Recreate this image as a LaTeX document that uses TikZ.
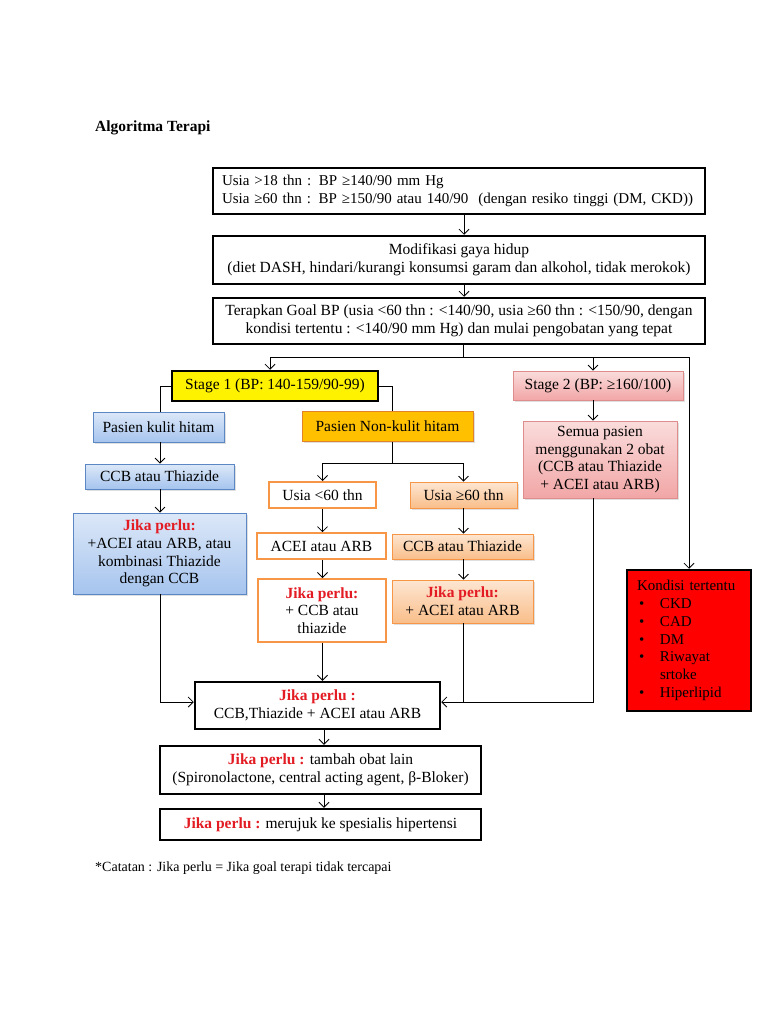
\documentclass[tikz,border=0pt]{standalone}
\usepackage{fontspec}
\setmainfont{Liberation Serif}
\usetikzlibrary{arrows.meta,shadows,calc}
\definecolor{jred}{HTML}{E31B23}
\definecolor{bluetop}{HTML}{DCE8F8}
\definecolor{bluebot}{HTML}{A6C4EE}
\definecolor{blueline}{HTML}{5B87C5}
\definecolor{orgfill}{HTML}{FFC000}
\definecolor{orgline}{HTML}{E0832A}
\definecolor{ltorgtop}{HTML}{FDE6D2}
\definecolor{ltorgbot}{HTML}{F9BE8A}
\definecolor{ltorgline}{HTML}{F79646}
\definecolor{pinktop}{HTML}{FADCDC}
\definecolor{pinkbot}{HTML}{F2A6A6}
\definecolor{pinkline}{HTML}{DE8C8C}
\newcommand{\jkp}[1]{\textcolor{jred}{\textbf{#1}}}
\tikzset{
  every node/.style={font=\fontsize{15.5}{17.8}\selectfont, inner sep=2pt},
  blk/.style={draw=black, line width=2.5pt, fill=white, align=center},
  bluebox/.style={draw=blueline, line width=0.8pt, top color=bluetop, bottom color=bluebot, align=center,
    drop shadow={opacity=0.25, shadow xshift=1.5pt, shadow yshift=-1.5pt}},
  orgbox/.style={draw=orgline, line width=1pt, fill=orgfill, align=center,
    drop shadow={opacity=0.25, shadow xshift=1.5pt, shadow yshift=-1.5pt}},
  ltorgbox/.style={draw=ltorgline, line width=0.8pt, top color=ltorgtop, bottom color=ltorgbot, align=center,
    drop shadow={opacity=0.25, shadow xshift=1.5pt, shadow yshift=-1.5pt}},
  worgbox/.style={draw=ltorgline, line width=2pt, fill=white, align=center},
  pinkbox/.style={draw=pinkline, line width=0.8pt, top color=pinktop, bottom color=pinkbot, align=center,
    drop shadow={opacity=0.25, shadow xshift=1.5pt, shadow yshift=-1.5pt}},
  conn/.style={line width=0.8pt, draw=black},
  arr/.style={conn, -{Straight Barb[length=5pt,width=10pt]}},
}
\begin{document}
\begin{tikzpicture}[x=1pt,y=-1pt]
\path[use as bounding box, fill=white] (0,0) rectangle (768,1024);

\node[anchor=west, font=\fontsize{15.5}{17.8}\selectfont\bfseries] (title) at (93,128) {Algoritma Terapi};

\node[blk, align=left, text width=474pt, inner xsep=9pt, minimum height=46pt, font=\fontsize{15}{17.8}\selectfont] (b1) at (459,191)
  {Usia >18 thn : BP ≥140/90 mm Hg\\Usia ≥60 thn : BP ≥150/90 atau 140/90~ (dengan resiko tinggi (DM, CKD))};
\node[blk, minimum width=492pt, minimum height=48pt] (b2) at (459,260)
  {Modifikasi gaya hidup\\(diet DASH, hindari/kurangi konsumsi garam dan alkohol, tidak merokok)};
\node[blk, minimum width=492pt, minimum height=46pt] (b3) at (459,321)
  {Terapkan Goal BP (usia <60 thn : <140/90, usia ≥60 thn : <150/90, dengan\\kondisi tertentu : <140/90 mm Hg) dan mulai pengobatan yang tepat};

\node[blk, fill=yellow, minimum width=206pt, minimum height=30pt] (s1) at (275,386) {Stage 1 (BP: 140-159/90-99)};
\node[pinkbox, minimum width=170pt, minimum height=29pt] (s2) at (598,385.5) {Stage 2 (BP: ≥160/100)};
\node[pinkbox, minimum width=154pt, minimum height=77pt] (semua) at (600,459.5)
  {Semua pasien\\menggunakan 2 obat\\(CCB atau Thiazide\\+ ACEI atau ARB)};

\node[bluebox, minimum width=131pt, minimum height=30pt] (pkh) at (158.5,427) {Pasien kulit hitam};
\node[bluebox, minimum width=149pt, minimum height=25pt] (ccb1) at (159.5,476.5) {CCB atau Thiazide};
\node[bluebox, minimum width=173pt, minimum height=81pt] (jp1) at (159.5,553.5)
  {\jkp{Jika perlu:}\\+ACEI atau ARB, atau\\kombinasi Thiazide\\dengan CCB};

\node[orgbox, minimum width=171pt, minimum height=30pt] (pnk) at (387.5,426) {Pasien Non-kulit hitam};
\node[worgbox, minimum width=107pt, minimum height=26pt] (u60) at (322.5,495) {Usia <60 thn};
\node[ltorgbox, minimum width=107pt, minimum height=26pt] (u60b) at (463.5,495) {Usia ≥60 thn};
\node[worgbox, line width=1.6pt, minimum width=129pt, minimum height=26pt] (acei) at (321.5,546) {ACEI atau ARB};
\node[worgbox, minimum width=128pt, minimum height=63pt] (jp2) at (322,610.5)
  {\jkp{Jika perlu:}\\+ CCB atau\\thiazide};
\node[ltorgbox, minimum width=141pt, minimum height=25pt] (ccb2) at (462.5,546.5) {CCB atau Thiazide};
\node[ltorgbox, minimum width=141pt, minimum height=43pt] (jp3) at (462.5,601.5)
  {\jkp{Jika perlu:}\\+ ACEI atau ARB};

\node[blk, fill=red, align=left, text width=104pt, inner xsep=10pt, minimum height=141pt, font=\fontsize{15}{17.8}\selectfont] (red) at (689,640.5)
  {Kondisi tertentu\\
   \hspace*{2pt}\makebox[21pt][l]{\textbullet}CKD\\
   \hspace*{2pt}\makebox[21pt][l]{\textbullet}CAD\\
   \hspace*{2pt}\makebox[21pt][l]{\textbullet}DM\\
   \hspace*{2pt}\makebox[21pt][l]{\textbullet}Riwayat\\
   \hspace*{23pt}srtoke\\
   \hspace*{2pt}\makebox[21pt][l]{\textbullet}Hiperlipid};

\node[blk, minimum width=245pt, minimum height=47pt] (main) at (317.5,705.5)
  {\jkp{Jika perlu :}\\CCB,Thiazide + ACEI atau ARB};
\node[blk, minimum width=321pt, minimum height=48pt] (m2) at (320.5,770)
  {\jkp{Jika perlu :} tambah obat lain\\(Spironolactone, central acting agent, β-Bloker)};
\node[blk, minimum width=321pt, minimum height=31pt] (m3) at (320.5,824.5)
  {\jkp{Jika perlu :} merujuk ke spesialis hipertensi};

\node[anchor=west, font=\fontsize{14}{16}\selectfont] (cat) at (93,868) {*Catatan : Jika perlu = Jika goal terapi tidak tercapai};

% connectors top
\draw[arr] (b1.south -| 464,0) -- (b2.north -| 464,0);
\draw[arr] (b2.south -| 464,0) -- (b3.north -| 464,0);
\coordinate (j0) at (463,357);
\coordinate (jl) at (270,357);
\coordinate (jr) at (689,357);
\coordinate (js2) at (593,357);
\draw[conn] (b3.south -| j0) -- (j0);
\draw[conn] (jl) -- (jr);
\draw[arr] (jl) -- (s1.north -| jl);
\draw[arr] (js2) -- (s2.north -| js2);
\draw[arr] (jr) -- (red.north);
\draw[arr] (s2.south -| js2) -- (semua.north -| js2);

% stage 1 branches
\coordinate (sl) at (160,386);
\coordinate (sr) at (392,386);
\draw[conn] (s1.west) -- (sl) -- (pkh.north -| sl);
\draw[conn] (s1.east) -- (sr) -- (pnk.north -| sr);

% left column
\draw[arr] (pkh.south -| sl) -- (ccb1.north -| sl);
\draw[arr] (ccb1.south -| sl) -- (jp1.north -| sl);
\coordinate (jh) at (300,702);
\draw[arr] (jp1.south -| sl) -- (sl |- jh) -- (main.west |- jh);

% non-black branch
\coordinate (jnl) at (322.5,463);
\coordinate (jnr) at (463.5,463);
\draw[conn] (pnk.south -| sr) -- (sr |- jnl);
\draw[conn] (jnl) -- (jnr);
\draw[arr] (jnl) -- (u60.north);
\draw[arr] (jnr) -- (u60b.north);
\draw[arr] (u60.south -| jnl) -- (acei.north -| jnl);
\draw[arr] (acei.south -| jnl) -- (jp2.north -| jnl);
\draw[arr] (jp2.south -| jnl) -- (main.north -| jnl);
\draw[arr] (u60b.south -| jnr) -- (ccb2.north -| jnr);
\draw[arr] (ccb2.south -| jnr) -- (jp3.north -| jnr);
\draw[conn] (jp3.south -| jnr) -- (jnr |- jh);
\draw[arr] (semua.south -| js2) -- (js2 |- jh) -- (main.east |- jh);

% bottom chain
\coordinate (jb) at (324,0);
\draw[arr] (main.south -| jb) -- (m2.north -| jb);
\draw[arr] (m2.south -| jb) -- (m3.north -| jb);
\end{tikzpicture}
\end{document}
